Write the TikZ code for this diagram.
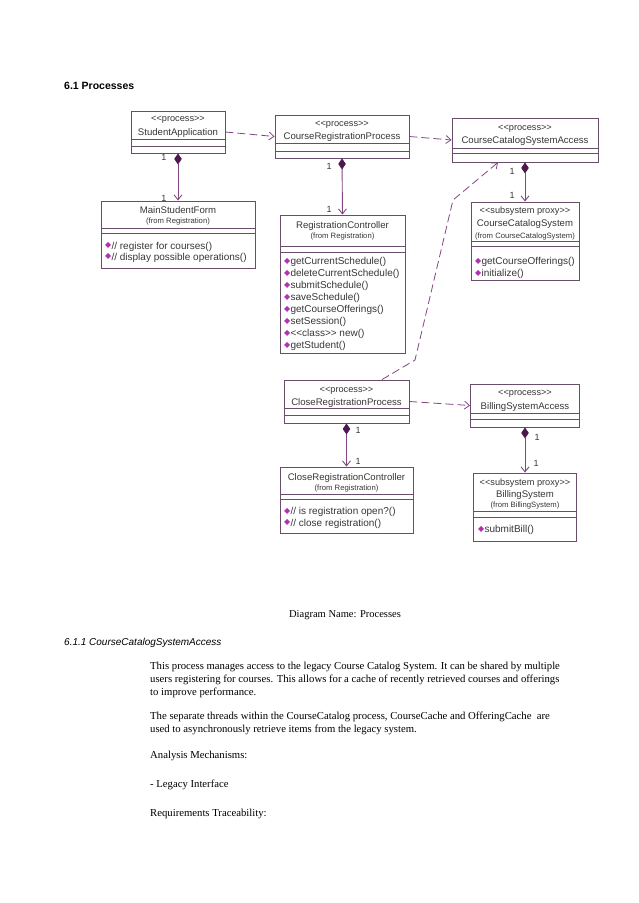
\documentclass[tikz,border=0pt]{standalone}
\usepackage{fontspec}
\setmainfont{Liberation Serif}
\newfontfamily\umlfont{Liberation Sans}
\newfontfamily\symbfont{DejaVu Sans}
\usetikzlibrary{arrows.meta, positioning}

\definecolor{boxcol}{RGB}{104,78,104}
\definecolor{linecol}{RGB}{130,70,130}
\definecolor{diacol}{RGB}{75,25,75}
\definecolor{iconcol}{RGB}{175,50,175}
\definecolor{umltext}{RGB}{55,55,55}

\newcommand{\stereo}[1]{<\kern0pt<#1>\kern0pt>}
\newcommand{\meth}{\raisebox{1.2pt}{\symbfont\fontsize{8}{8}\selectfont\color{iconcol}\symbol{"25C6}}\hspace{0.2pt}}

\begin{document}
\begin{tikzpicture}[x=1pt, y=-1pt,
        classbox/.style={draw=boxcol, line width=0.9pt, inner sep=0pt},
        stereotype/.style={anchor=base, font=\umlfont\fontsize{9.2}{11}\selectfont, text=umltext, inner sep=0pt},
        classname/.style={anchor=base, font=\umlfont\fontsize{9.6}{11}\selectfont, text=umltext, inner sep=0pt},
        origin/.style={anchor=base, font=\umlfont\fontsize{7.7}{9}\selectfont, text=umltext, inner sep=0pt},
        operation/.style={anchor=base west, font=\umlfont\fontsize{10}{11}\selectfont, text=umltext, inner sep=0pt},
        mult/.style={font=\umlfont\fontsize{9}{11}\selectfont, text=umltext, inner sep=0pt},
        composition/.style={draw=linecol, line width=0.9pt, {Diamond[length=11pt, width=7.5pt, color=diacol]}-{Straight Barb[length=5pt, width=8pt]}},
        dependency/.style={draw=linecol, line width=0.8pt, dash pattern=on 8pt off 4pt, -{Straight Barb[length=5pt, width=8pt]}},
        heading/.style={anchor=base west, font=\umlfont\fontsize{10.5}{12}\selectfont, inner sep=0pt},
        body/.style={anchor=base west, font=\fontsize{10.7}{13}\selectfont, inner sep=0pt}
      ]
        \useasboundingbox[fill=white] (0,0) rectangle (638,903);

        % Class boxes
        \node[classbox, minimum width=94pt, minimum height=42pt] (stuapp) at (178,132) {};
        \node[classbox, minimum width=154pt, minimum height=67pt] (mainform) at (178,234.5) {};
        \node[classbox, minimum width=134pt, minimum height=43pt] (regproc) at (342,136.5) {};
        \node[classbox, minimum width=125pt, minimum height=138pt] (regctrl) at (342.5,284) {};
        \node[classbox, minimum width=146pt, minimum height=44pt] (catalogacc) at (525,140) {};
        \node[classbox, minimum width=108pt, minimum height=78pt] (catalog) at (525,241) {};
        \node[classbox, minimum width=125pt, minimum height=43pt] (closeproc) at (346.5,401.5) {};
        \node[classbox, minimum width=133pt, minimum height=66pt] (closectrl) at (346.5,500) {};
        \node[classbox, minimum width=109pt, minimum height=43pt] (billacc) at (525,405.5) {};
        \node[classbox, minimum width=103pt, minimum height=68pt] (billing) at (525,507) {};

        % Compartments
        \foreach \n/\ya/\yb in {stuapp/139/146, mainform/228/233, regproc/143.5/151, regctrl/246.5/252,
            catalogacc/148/153.5, catalog/241/246, closeproc/408.5/415, closectrl/494/499,
            billacc/413.5/419, billing/511.5/517} {
            \draw[boxcol, line width=0.9pt] (\n.west |- 0,\ya) -- (\n.east |- 0,\ya);
            \draw[boxcol, line width=0.9pt] (\n.west |- 0,\yb) -- (\n.east |- 0,\yb);
        }

        % Names
        \node[stereotype] (stuappst) at (178,121.5) {\stereo{process}};
        \node[classname] (stuappnm) at (178,135.5) {StudentApplication};
        \node[classname] (mainformnm) at (178,213.5) {MainStudentForm};
        \node[origin] (mainformor) at (178,223.2) {(from Registration)};
        \node[stereotype] (regprocst) at (342,126) {\stereo{process}};
        \node[classname] (regprocnm) at (342,139.2) {CourseRegistrationProcess};
        \node[classname] (regctrlnm) at (342.5,228.5) {RegistrationController};
        \node[origin] (regctrlor) at (342.5,238.7) {(from Registration)};
        \node[stereotype] (catalogaccst) at (525,130) {\stereo{process}};
        \node[classname] (catalogaccnm) at (525,143.5) {CourseCatalogSystemAccess};
        \node[stereotype] (catalogst) at (525,213) {\stereo{subsystem proxy}};
        \node[classname] (catalognm) at (525,226.2) {CourseCatalogSystem};
        \node[origin] (catalogor) at (525,238.2) {(from CourseCatalogSystem)};
        \node[stereotype] (closeprocst) at (346.5,392) {\stereo{process}};
        \node[classname] (closeprocnm) at (346.5,405.2) {CloseRegistrationProcess};
        \node[classname] (closectrlnm) at (346.5,480.5) {CloseRegistrationController};
        \node[origin] (closectrlor) at (346.5,490.2) {(from Registration)};
        \node[stereotype] (billaccst) at (525,395.5) {\stereo{process}};
        \node[classname] (billaccnm) at (525,409.2) {BillingSystemAccess};
        \node[stereotype] (billingst) at (525,485) {\stereo{subsystem proxy}};
        \node[classname] (billingnm) at (525,497.5) {BillingSystem};
        \node[origin] (billingor) at (525,507.7) {(from BillingSystem)};

        % Operations
        \node[operation] (mainformop1) at (105,249) {\meth// register for courses()};
        \node[operation] (mainformop2) at (105,260) {\meth// display possible operations()};
        \foreach \op [count=\i from 0] in {getCurrentSchedule(), deleteCurrentSchedule(), submitSchedule(),
            saveSchedule(), getCourseOfferings(), setSession(), {\stereo{class} new()}, getStudent()} {
            \node[operation] (regctrlop\i) at (284,264.5+12*\i) {\meth\op};
        }
        \node[operation] (catalogop1) at (475,264.2) {\meth getCourseOfferings()};
        \node[operation] (catalogop2) at (475,276.2) {\meth initialize()};
        \node[operation] (closectrlop1) at (284,514.5) {\meth// is registration open?()};
        \node[operation] (closectrlop2) at (284,526) {\meth// close registration()};
        \node[operation] (billingop1) at (478,532.5) {\meth submitBill()};

        % Compositions
        \draw[composition] (stuapp.south) -- (mainform.north);
        \draw[composition] (regproc.south) -- (regctrl.north);
        \draw[composition] (catalogacc.south) -- (catalog.north);
        \draw[composition] (closeproc.south) -- (closectrl.north);
        \draw[composition] (billacc.south) -- (billing.north);

        % Multiplicities
        \node[mult] (m1a) at (164,157) {1};
        \node[mult] (m1b) at (164,198) {1};
        \node[mult] (m2a) at (329,166) {1};
        \node[mult] (m2b) at (329,209) {1};
        \node[mult] (m3a) at (512,171) {1};
        \node[mult] (m3b) at (512,195) {1};
        \node[mult] (m4a) at (358,430) {1};
        \node[mult] (m4b) at (358,461) {1};
        \node[mult] (m5a) at (537,437) {1};
        \node[mult] (m5b) at (536,463) {1};

        % Dependencies
        \draw[dependency] (stuapp.east) -- (regproc.west);
        \draw[dependency] (regproc.east) -- (catalogacc.west);
        \draw[dependency] (closeproc.east) -- (billacc.west);
        \draw[dependency] (closeproc.north -| 382,0) -- (415,360) -- (453,200) -- (catalogacc.south -| 498,0);

        % Text of the page
        \node[heading, font=\umlfont\bfseries\fontsize{10.5}{12}\selectfont] (sec) at (64,89) {6.1 Processes};
        \node[anchor=base, font=\fontsize{10.5}{13}\selectfont, inner sep=0pt] (caption) at (345,617) {Diagram Name: Processes};
        \node[heading, font=\umlfont\itshape\fontsize{10}{12}\selectfont] (subsec) at (64,645) {6.1.1 CourseCatalogSystemAccess};
        \node[body] (pa1) at (150,669.5) {This process manages access to the legacy Course Catalog System. It can be shared by multiple};
        \node[body] (pa2) at (150,682.5) {users registering for courses. This allows for a cache of recently retrieved courses and offerings};
        \node[body] (pa3) at (150,695.5) {to improve performance.};
        \node[body] (pb1) at (150,719.5) {The separate threads within the CourseCatalog process, CourseCache and OfferingCache\ \ are};
        \node[body] (pb2) at (150,732.5) {used to asynchronously retrieve items from the legacy system.};
        \node[body] (pc) at (150,758.5) {Analysis Mechanisms:};
        \node[body] (pd) at (150,787.5) {- Legacy Interface};
        \node[body] (pe) at (150,816.5) {Requirements Traceability:};
    \end{tikzpicture}
\end{document}
